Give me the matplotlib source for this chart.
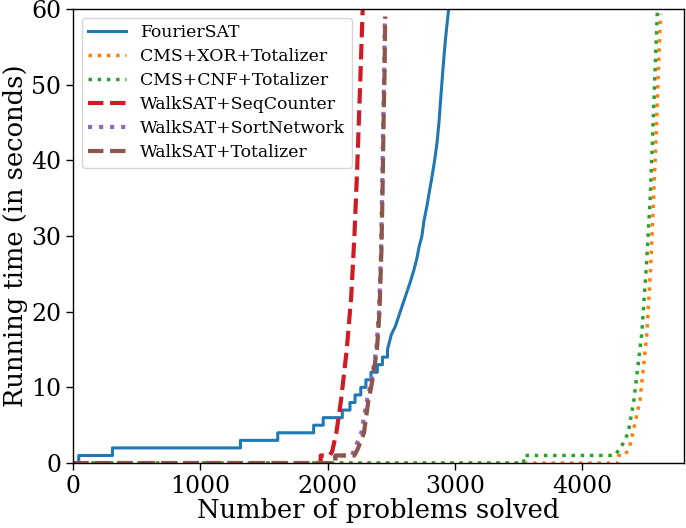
import numpy as np
import matplotlib
matplotlib.use('Agg')
from matplotlib import pyplot as plt

plt.rcParams['font.family'] = 'DejaVu Serif'

# FourierSAT: x where running time reaches each level
fourier_x = [0, 45, 310, 1315, 1608, 1890, 1965, 2115, 2175, 2215, 2260,
             2300, 2340, 2390, 2430, 2470, 2500, 2530, 2560, 2590, 2620,
             2650, 2677, 2700, 2717, 2740, 2756, 2780, 2800, 2816, 2840,
             2860, 2874, 2887, 2905, 2925, 2950]
fourier_y = [0, 1, 2, 3, 4, 5, 6, 7, 8, 9, 10, 11, 12, 13, 14, 15, 17, 18,
             19.5, 21, 22.5, 24, 25.5, 27, 28.5, 30, 32, 34, 36, 37.5, 40,
             42.5, 45, 48, 52, 56, 60]
n_steps = 15   # the first levels are drawn as plain steps

cms_xor_x = [0, 4285, 4285, 4334, 4372, 4410, 4453, 4506, 4537, 4559,
             4580, 4598, 4614]
cms_xor_y = [0, 0, 1, 1, 2.2, 5, 8.3, 17, 26, 34.7, 43.6, 52.3, 59.3]

cms_cnf_x = [0, 3539, 3539, 4254, 4308, 4360, 4405, 4466, 4503, 4532,
             4553, 4572, 4590]
cms_cnf_y = [0, 0, 1, 1, 2.2, 4, 8.3, 17, 26, 34.7, 43.6, 52.3, 60]

seq_x = [0, 1945, 1945, 2015, 2035, 2068, 2105, 2150, 2185, 2210, 2232,
         2255, 2275]
seq_y = [0, 0, 1, 1, 1.5, 4, 8.3, 15, 22, 30, 39, 50, 60]

sort_x = [0, 2060, 2060, 2190, 2215, 2265, 2305, 2345, 2382, 2403, 2419,
          2429, 2436, 2444, 2449]
sort_y = [0, 0, 1, 1, 2, 4, 8, 11, 15, 20, 28, 37, 45, 52, 59]

tot_x = [0, 2060, 2060, 2210, 2240, 2285, 2318, 2352, 2387, 2407, 2422,
         2432, 2439, 2447, 2452]
tot_y = [0, 0, 1, 1, 2, 4, 8, 11, 15, 20, 28, 37, 45, 52, 59]

# staircase for the low part, plain line afterwards
fx, fy = [fourier_x[0]], [fourier_y[0]]
for i in range(1, len(fourier_x)):
    if i <= n_steps:
        fx.append(fourier_x[i])
        fy.append(fourier_y[i-1])
    fx.append(fourier_x[i])
    fy.append(fourier_y[i])

fig = plt.figure(figsize=(6.86, 5.28), dpi=100)
ax = fig.add_axes([0.1064, 0.123, 0.891, 0.860])

ax.plot(fx, fy, color='#1f77b4', lw=2.2, label='FourierSAT')
ax.plot(cms_xor_x, cms_xor_y, ':', color='#ff7f0e', lw=2.5,
        label='CMS+XOR+Totalizer')
ax.plot(cms_cnf_x, cms_cnf_y, ':', color='#2ca02c', lw=2.5,
        label='CMS+CNF+Totalizer')
ax.plot(seq_x, seq_y, '--', color='#cf1b24', lw=3,
        label='WalkSAT+SeqCounter')
ax.plot(sort_x, sort_y, ':', color='#9467bd', lw=3,
        label='WalkSAT+SortNetwork')
ax.plot(tot_x, tot_y, '--', color='#8c564b', lw=3,
        label='WalkSAT+Totalizer')

ax.set_xlim(0, 4800)
ax.set_ylim(0, 60)
ax.set_xticks([0, 1000, 2000, 3000, 4000])
ax.set_yticks([0, 10, 20, 30, 40, 50, 60])
ax.tick_params(labelsize=17, length=5, width=1)
ax.set_xlabel('Number of problems solved', fontsize=18.5, labelpad=0)
ax.set_ylabel('Running time (in seconds)', fontsize=18.5, labelpad=2)
for s in ax.spines.values():
    s.set_color('black')
    s.set_linewidth(1)

ax.legend(loc='upper left', fontsize=12.4, handlelength=2.2,
          labelspacing=0.4, edgecolor='#cccccc', fancybox=True)

fig.savefig('out.png', dpi=100)
